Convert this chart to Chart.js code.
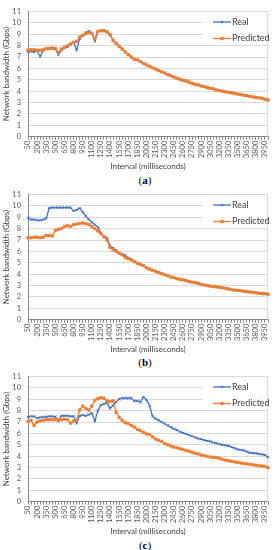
<!DOCTYPE html>
<html><head><meta charset="utf-8">
<script src="https://cdn.jsdelivr.net/npm/chart.js@4/dist/chart.umd.min.js"></script>
<style>
body{margin:0;width:278px;height:550px;background:#fff;position:relative;overflow:hidden;font-family:Lato,sans-serif}
.blk{position:absolute;left:0;width:278px;height:172px}
.cap{position:absolute;left:120px;width:50px;text-align:center;font:11px/12px 'Liberation Serif',serif;color:#000}
</style></head><body>
<div class="blk" style="top:0"><canvas id="ca" width="278" height="172"></canvas></div>
<div class="cap" style="top:174px">(<b>a</b>)</div>
<div class="blk" style="top:183px"><canvas id="cb" width="278" height="172"></canvas></div>
<div class="cap" style="top:356px">(<b>b</b>)</div>
<div class="blk" style="top:365px"><canvas id="cc" width="278" height="172"></canvas></div>
<div class="cap" style="top:539px">(<b>c</b>)</div>
<script>
const intervals = [50,100,150,200,250,300,350,400,450,500,550,600,650,700,750,800,850,900,950,1000,
1050,1100,1150,1200,1250,1300,1350,1400,1450,1500,1550,1600,1650,1700,1750,1800,1850,1900,1950,2000,
2050,2100,2150,2200,2250,2300,2350,2400,2450,2500,2550,2600,2650,2700,2750,2800,2850,2900,2950,3000,
3050,3100,3150,3200,3250,3300,3350,3400,3450,3500,3550,3600,3650,3700,3750,3800,3850,3900,3950,4000];
const yTicks = [0,1,2,3,4,5,6,7,8,9,10,11];
const seriesNames = ['Real','Predicted'];

const realA = [7.45,7.5,7.45,7.55,7.05,7.6,7.7,7.75,7.75,7.7, 7.2,7.6,7.8,7.9,8.1,8.3,7.6,8.6,8.9,9.15,
9.3,9.1,8.4,9.2,9.3,9.35,9.25,9.0,8.5,8.2, 7.95,7.7,7.45,7.2,7.0,6.8,6.75,6.6,6.45,6.3,
6.2,6.05,5.95,5.8,5.7,5.6,5.45,5.35,5.25,5.15, 5.05,4.95,4.9,4.8,4.7,4.6,4.55,4.45,4.4,4.3,
4.25,4.2,4.1,4.05,4.0,3.95,3.9,3.85,3.8,3.75, 3.7,3.65,3.6,3.55,3.5,3.45,3.42,3.38,3.3,3.22];
const predA = [7.6,7.65,7.65,7.6,7.6,7.65,7.75,7.75,7.8,7.75, 7.4,7.7,7.85,8.0,8.15,8.3,8.35,8.75,8.9,9.05,
9.15,9.1,8.6,9.25,9.3,9.3,9.2,8.95,8.45,8.2, 7.95,7.7,7.45,7.2,7.0,6.8,6.75,6.6,6.45,6.3,
6.2,6.05,5.95,5.8,5.7,5.6,5.45,5.35,5.25,5.15, 5.05,4.95,4.9,4.8,4.7,4.6,4.55,4.45,4.4,4.3,
4.25,4.2,4.1,4.05,4.0,3.95,3.9,3.85,3.8,3.75, 3.7,3.65,3.6,3.55,3.5,3.45,3.42,3.38,3.3,3.22];

const realB = [8.95,8.8,8.8,8.75,8.72,8.8,8.9,9.82,9.85,9.85, 9.85,9.85,9.85,9.85,9.85,9.55,9.65,9.8,9.45,9.1,
8.8,8.55,8.35,8.15,7.6,7.3,7.2,6.5,6.3,6.1, 5.85,5.75,5.65,5.45,5.3,5.1,4.95,4.85,4.75,4.55,
4.45,4.35,4.25,4.15,4.05,3.95,3.85,3.75,3.7,3.6, 3.55,3.5,3.45,3.35,3.3,3.25,3.2,3.1,3.05,3.0,
2.95,2.92,2.88,2.85,2.8,2.75,2.7,2.65,2.6,2.58, 2.55,2.5,2.47,2.43,2.4,2.37,2.33,2.3,2.28,2.25];
const predB = [7.2,7.2,7.25,7.25,7.2,7.25,7.4,7.4,7.35,7.85, 7.95,8.0,8.2,8.25,8.2,8.35,8.4,8.45,8.5,8.45,
8.35,8.2,8.0,7.8,7.55,7.3,7.0,6.35,6.15,6.0, 5.85,5.7,5.45,5.35,5.25,5.1,4.95,4.85,4.75,4.55,
4.45,4.35,4.25,4.15,4.05,3.95,3.85,3.75,3.7,3.6, 3.55,3.5,3.45,3.35,3.3,3.25,3.2,3.1,3.05,3.0,
2.95,2.92,2.88,2.85,2.8,2.75,2.7,2.65,2.6,2.58, 2.55,2.5,2.47,2.43,2.4,2.37,2.33,2.3,2.28,2.25];

const realC = [7.45,7.5,7.5,7.35,7.4,7.45,7.45,7.5,7.5,7.45, 7.1,7.55,7.55,7.55,7.5,7.5,6.9,7.55,7.6,7.55,
7.65,7.8,7.1,8.0,8.5,8.6,8.7,8.2,8.45,8.75, 9.0,9.1,9.1,9.1,9.1,8.85,8.85,8.75,9.2,8.95,
8.45,7.5,7.3,7.15,7.0,6.85,6.7,6.55,6.4,6.3, 6.15,6.05,5.95,5.85,5.75,5.65,5.55,5.5,5.4,5.35,
5.3,5.2,5.15,5.05,5.0,4.95,4.9,4.8,4.7,4.6, 4.55,4.5,4.4,4.3,4.28,4.25,4.2,4.15,4.1,3.9];
const predC = [7.05,7.15,6.7,7.0,7.1,7.15,7.2,7.2,7.2,7.2, 7.2,7.2,7.25,7.2,6.9,7.1,7.15,8.05,8.4,8.2,
8.05,8.4,8.9,9.05,9.15,9.1,8.85,8.8,8.85,7.85, 7.4,7.15,6.95,6.85,6.7,6.55,6.35,6.25,6.1,5.95,
5.9,5.7,5.5,5.4,5.3,5.1,5.0,4.9,4.8,4.75, 4.65,4.6,4.5,4.45,4.35,4.25,4.2,4.1,4.05,3.98,
3.92,3.9,3.88,3.82,3.72,3.65,3.6,3.55,3.5,3.45, 3.4,3.35,3.32,3.28,3.25,3.2,3.17,3.13,3.1,2.98];

const BLUE = '#4472C4', ORANGE = '#ED7D31';

const insideLegend = {
  id: 'insideLegend',
  afterDraw(chart) {
    const {ctx, chartArea: a} = chart;
    ctx.save();
    ctx.fillStyle = '#fff';
    ctx.fillRect(203, a.top + 3, a.right - 203 - 1, 30);
    chart.data.datasets.forEach((ds, k) => {
      const y = a.top + (k === 0 ? 10.5 : 27);
      ctx.strokeStyle = ds.borderColor;
      ctx.fillStyle = ds.borderColor;
      ctx.lineWidth = 1.3;
      ctx.beginPath(); ctx.moveTo(213, y); ctx.lineTo(231, y); ctx.stroke();
      ctx.lineWidth = 1;
      Chart.helpers.drawPoint(ctx, {pointStyle: ds.pointStyle, radius: ds.pointRadius, borderWidth: 1, rotation: 0}, 222, y);
      ctx.fillStyle = '#404040';
      ctx.font = '9px Lato';
      ctx.textBaseline = 'middle';
      ctx.textAlign = 'left';
      ctx.fillText(ds.label, 232, y);
    });
    ctx.restore();
  }
};
const rightEdge = {
  id: 'rightEdge',
  beforeDatasetsDraw(chart) {
    const {ctx, chartArea: a} = chart;
    ctx.save();
    ctx.strokeStyle = '#D9D9D9';
    ctx.lineWidth = 1;
    ctx.beginPath(); ctx.moveTo(Math.round(a.right) - 0.5, a.top); ctx.lineTo(Math.round(a.right) - 0.5, a.bottom); ctx.stroke();
    ctx.restore();
  }
};

function makeChart(id, real, pred) {
  new Chart(document.getElementById(id), {
    type: 'line',
    data: {
      labels: intervals,
      datasets: [
        {label: seriesNames[0], data: real, borderColor: BLUE, backgroundColor: BLUE, borderWidth: 1.3,
         pointStyle: 'crossRot', pointRadius: 1.7, pointBorderWidth: 1, tension: 0, order: 2},
        {label: seriesNames[1], data: pred, borderColor: ORANGE, backgroundColor: ORANGE, borderWidth: 1.3,
         pointStyle: 'rect', pointRadius: 1.7, pointBorderWidth: 0.8, tension: 0, order: 1}
      ]
    },
    options: {
      responsive: false, animation: false, devicePixelRatio: 1,
      layout: {padding: {left: 2, right: 4, top: 6, bottom: 0}},
      plugins: {legend: {display: false}, tooltip: {enabled: false}},
      scales: {
        x: {
          type: 'category', offset: false,
          grid: {display: true, drawOnChartArea: false, drawTicks: true, tickLength: 3, color: '#868686'},
          border: {display: true, color: '#868686'},
          ticks: {autoSkip: false, minRotation: 90, maxRotation: 90, padding: 1, color: '#595959',
            font: {family: 'Lato', size: 7.5},
            callback: function(v, i) { return i % 3 === 0 ? String(intervals[i]) : ''; }},
          title: {display: true, text: 'Interval (milliseconds)', color: '#404040', font: {family: 'Lato', size: 8}, padding: {top: 0, bottom: 1}},
          afterFit(s) { s.height = 35.3; }
        },
        y: {
          min: yTicks[0], max: yTicks[yTicks.length - 1],
          afterBuildTicks(s) { s.ticks = yTicks.map(v => ({value: v})); },
          grid: {color: '#D9D9D9', drawTicks: false},
          border: {display: true, color: '#868686'},
          ticks: {autoSkip: false, padding: 7, color: '#595959', font: {family: 'Lato', size: 7.5}},
          title: {display: true, text: 'Network bandwidth (Gbps)', color: '#404040', font: {family: 'Lato', size: 8}, padding: 0},
          afterFit(s) { s.width = 26; }
        }
      }
    },
    plugins: [rightEdge, insideLegend]
  });
}
makeChart('ca', realA, predA);
makeChart('cb', realB, predB);
makeChart('cc', realC, predC);
</script>
</body></html>
